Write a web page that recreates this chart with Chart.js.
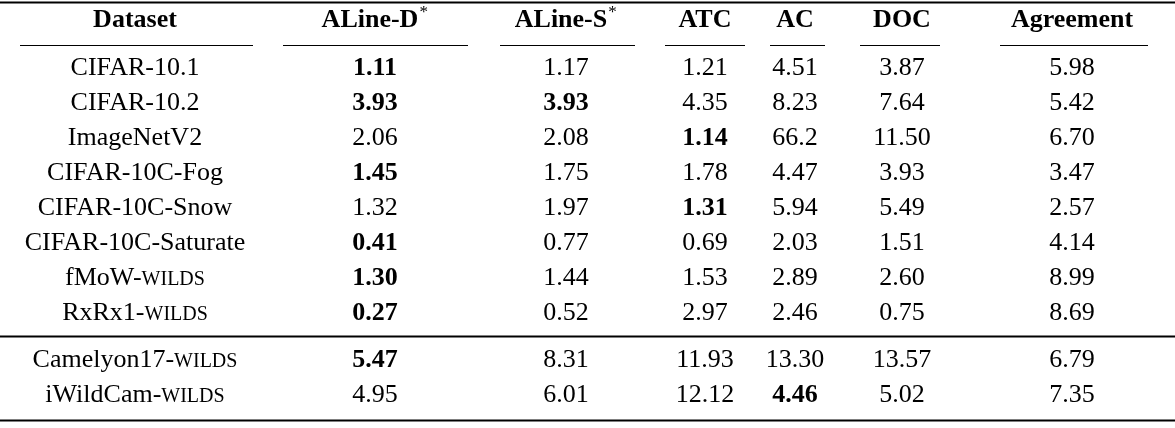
<!DOCTYPE html>
<html><head><meta charset="utf-8">
<script src="https://cdn.jsdelivr.net/npm/chart.js@4"></script>
<style>html,body{margin:0;background:#fff}#w{width:1175px;height:428px}
.pre{font-family:'Liberation Serif';position:absolute;left:-999px;top:0}</style>
</head><body><span class="pre">a<b>b</b></span><div id="w"><canvas id="c"></canvas></div>
<script>
const columns = ['Dataset','ALine-D','ALine-S','ATC','AC','DOC','Agreement'];
const datasets = ['CIFAR-10.1','CIFAR-10.2','ImageNetV2','CIFAR-10C-Fog','CIFAR-10C-Snow','CIFAR-10C-Saturate','fMoW-','RxRx1-','Camelyon17-','iWildCam-'];
const alineD = ['1.11','3.93','2.06','1.45','1.32','0.41','1.30','0.27','5.47','4.95'];
const alineS = ['1.17','3.93','2.08','1.75','1.97','0.77','1.44','0.52','8.31','6.01'];
const atc    = ['1.21','4.35','1.14','1.78','1.31','0.69','1.53','2.97','11.93','12.12'];
const ac     = ['4.51','8.23','66.2','4.47','5.94','2.03','2.89','2.46','13.30','4.46'];
const doc    = ['3.87','7.64','11.50','3.93','5.49','1.51','2.60','0.75','13.57','5.02'];
const agreement = ['5.98','5.42','6.70','3.47','2.57','4.14','8.99','8.69','6.79','7.35'];
const bold = [[1],[1,2],[3],[1],[3],[1],[1],[1],[1],[4]];
const valueCols = [alineD, alineS, atc, ac, doc, agreement];

const colX = [135,375,566,705,795,902,1072];
const lineSeg = [[20,253],[283,468],[500,635],[665,745],[770,825],[860,940],[1000,1148]];
const SERIF = "'Liberation Serif', serif";
function rowVal(i){ return i>=8 ? i+0.343 : i; }

const tablePlugin = {
  id:'table',
  afterDraw(chart){
    const c = chart.ctx, y = chart.scales.y;
    c.save(); c.fillStyle='#000'; c.strokeStyle='#000'; c.textBaseline='middle';
    const hline=(v,x0,x1,w)=>{c.lineWidth=w;c.beginPath();const p=Math.round(y.getPixelForValue(v))+0.5;c.moveTo(x0,p);c.lineTo(x1,p);c.stroke();};
    hline(-1.886,0,1175,2.2);
    lineSeg.forEach(s=>hline(-0.657,s[0],s[1],1.2));
    hline(7.657,0,1175,2.2);
    hline(10.057,0,1175,2.2);
    const hy=y.getPixelForValue(-1.371);
    columns.forEach((h,j)=>{
      c.font='bold 26px '+SERIF;
      const star = (j===1||j===2);
      const w=c.measureText(h).width, sw= star? 10:0;
      const x0=colX[j]-(w+sw)/2;
      c.textAlign='left'; c.fillText(h,x0,hy);
      if(star){ c.font='17px '+SERIF; c.fillText('*',x0+w+1,hy-7); }
    });
    datasets.forEach((d,i)=>{
      const py=y.getPixelForValue(rowVal(i));
      c.textAlign='left';
      if(i>=6){
        c.font='26px '+SERIF; const w1=c.measureText(d).width;
        c.font='20px '+SERIF; const w2=c.measureText('WILDS').width;
        const x0=colX[0]-(w1+w2)/2;
        c.font='26px '+SERIF; c.fillText(d,x0,py);
        c.font='20px '+SERIF; c.fillText('WILDS',x0+w1,py+1.5);
      } else {
        c.font='26px '+SERIF; c.textAlign='center'; c.fillText(d,colX[0],py);
      }
      c.textAlign='center';
      valueCols.forEach((arr,j)=>{
        c.font=(bold[i].includes(j+1)?'bold ':'')+'26px '+SERIF;
        c.fillText(arr[i],colX[j+1],py);
      });
    });
    c.restore();
  }
};

function build(){
new Chart(document.getElementById('c'),{
  type:'scatter',
  data:{datasets:valueCols.map((arr,j)=>({label:columns[j+1],data:arr.map((v,i)=>({x:j+1,y:rowVal(i)})),pointRadius:0}))},
  options:{responsive:true,maintainAspectRatio:false,animation:false,
    layout:{padding:0},
    plugins:{legend:{display:false},tooltip:{enabled:false}},
    scales:{x:{display:false,min:0,max:7},y:{display:false,reverse:true,min:-1.943,max:10.286}}},
  plugins:[tablePlugin]
});
}
Promise.all([document.fonts.load("26px 'Liberation Serif'"),document.fonts.load("bold 26px 'Liberation Serif'")]).then(build,build);
</script></body></html>
